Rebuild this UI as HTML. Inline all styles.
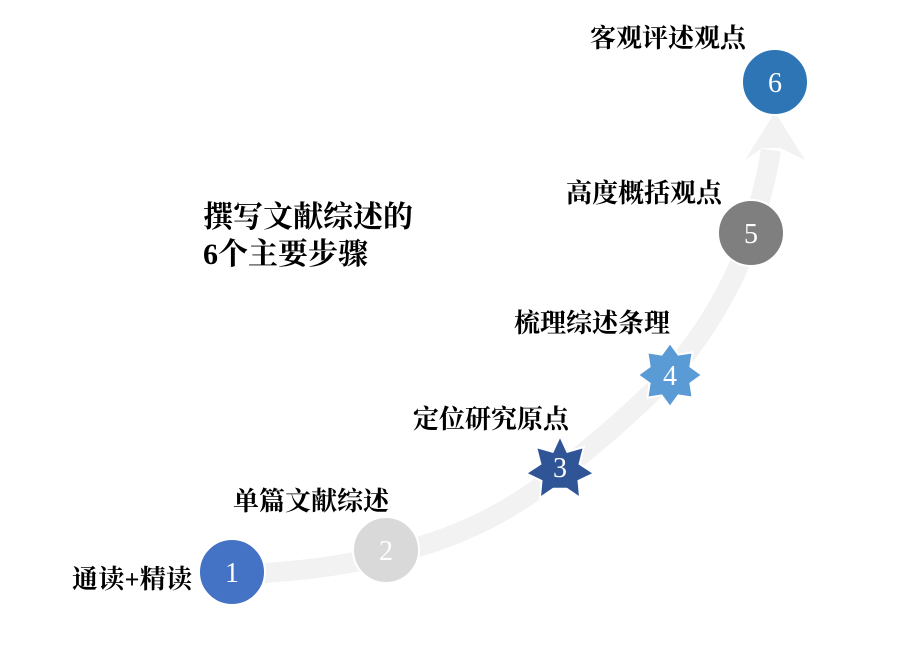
<!DOCTYPE html>
<html><head><meta charset="utf-8"><style>
body{margin:0;background:#fff;width:900px;height:641px;overflow:hidden}
</style></head><body>
<svg width="900" height="641" viewBox="0 0 900 641" xmlns="http://www.w3.org/2000/svg">
<path d="M250 574 C320 570 360 562 400 552 C470 534 520 505 565 468 C610 432 640 405 672 372 C715 320 740 270 752 230 C762 195 768 170 771 150" fill="none" stroke="#F2F2F2" stroke-width="20"/>
<polygon points="775,112 805,160 780,148 762,148 745,160" fill="#F2F2F2"/>
<g font-family="'Liberation Serif','Noto Serif CJK SC',serif" text-anchor="middle" font-size="28" fill="#fff">
<circle cx="232" cy="572" r="33" fill="#4472C4" stroke="#fff" stroke-width="2"/>
<text x="232" y="582">1</text>
<circle cx="386" cy="550" r="33" fill="#D9D9D9" stroke="#fff" stroke-width="2"/>
<text x="386" y="560">2</text>
<polygon fill="#2F5597" stroke="#fff" stroke-width="2" points="560.0,436.0 567.3,451.8 583.9,447.0 579.6,463.9 594.1,473.4 578.5,480.8 580.1,498.0 566.6,488.7 553.4,488.7 539.9,498.0 541.5,480.8 525.9,473.4 540.4,463.9 536.1,447.0 552.7,451.8"/>
<text x="560" y="477">3</text>
<polygon fill="#5B9BD5" stroke="#fff" stroke-width="2" points="670,343 678.4,354.6 692.6,352.4 690.4,366.6 702,375 690.4,383.4 692.6,397.6 678.4,395.4 670,407 661.6,395.4 647.4,397.6 649.6,383.4 638,375 649.6,366.6 647.4,352.4 661.6,354.6"/>
<text x="670" y="385">4</text>
<circle cx="751" cy="233" r="33" fill="#7F7F7F" stroke="#fff" stroke-width="2"/>
<text x="751" y="243">5</text>
<circle cx="775" cy="82" r="33" fill="#2E75B6" stroke="#fff" stroke-width="2"/>
<text x="775" y="92">6</text>
</g>
<g font-family="'Liberation Serif','Noto Serif CJK SC',serif" font-weight="bold" font-size="26" fill="#000">
<text x="72" y="588" textLength="120">通读+精读</text>
<text x="233" y="510">单篇文献综述</text>
<text x="413" y="428">定位研究原点</text>
<text x="514" y="332">梳理综述条理</text>
<text x="566" y="202">高度概括观点</text>
<text x="590" y="47">客观评述观点</text>
<text x="203" y="227" font-size="30">撰写文献综述的</text>
<text x="203" y="264" font-size="30">6个主要步骤</text>
</g>
</svg>
</body></html>
